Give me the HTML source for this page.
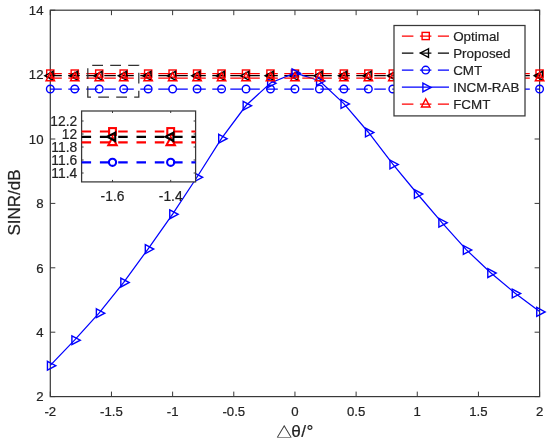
<!DOCTYPE html><html><head><meta charset="utf-8"><title>SINR plot</title>
<style>html,body{margin:0;padding:0;background:#fff}svg{display:block}text{font-family:"Liberation Sans","DejaVu Sans",sans-serif;fill:#222;stroke:#222;stroke-width:0.2}</style></head><body>
<svg width="550" height="444" viewBox="0 0 550 444">
<defs><filter id="soft" x="0" y="0" width="550" height="444" filterUnits="userSpaceOnUse"><feGaussianBlur stdDeviation="0.45"/></filter></defs>
<rect width="550" height="444" fill="#fff"/>
<g filter="url(#soft)">
<rect x="50.3" y="10.2" width="489.3" height="386.40000000000003" fill="none" stroke="#383838" stroke-width="1.2"/>
<path d="M50.30 396.6v-5M50.30 10.2v5M111.46 396.6v-5M111.46 10.2v5M172.62 396.6v-5M172.62 10.2v5M233.79 396.6v-5M233.79 10.2v5M294.95 396.6v-5M294.95 10.2v5M356.11 396.6v-5M356.11 10.2v5M417.28 396.6v-5M417.28 10.2v5M478.44 396.6v-5M478.44 10.2v5M539.60 396.6v-5M539.60 10.2v5M50.3 396.60h5M539.6 396.60h-5M50.3 332.20h5M539.6 332.20h-5M50.3 267.80h5M539.6 267.80h-5M50.3 203.40h5M539.6 203.40h-5M50.3 139.00h5M539.6 139.00h-5M50.3 74.60h5M539.6 74.60h-5M50.3 10.20h5M539.6 10.20h-5" stroke="#383838" stroke-width="1" fill="none"/>
<text x="50.30" y="416.3" font-size="13.2" text-anchor="middle">-2</text>
<text x="111.46" y="416.3" font-size="13.2" text-anchor="middle">-1.5</text>
<text x="172.62" y="416.3" font-size="13.2" text-anchor="middle">-1</text>
<text x="233.79" y="416.3" font-size="13.2" text-anchor="middle">-0.5</text>
<text x="294.95" y="416.3" font-size="13.2" text-anchor="middle">0</text>
<text x="356.11" y="416.3" font-size="13.2" text-anchor="middle">0.5</text>
<text x="417.28" y="416.3" font-size="13.2" text-anchor="middle">1</text>
<text x="478.44" y="416.3" font-size="13.2" text-anchor="middle">1.5</text>
<text x="539.60" y="416.3" font-size="13.2" text-anchor="middle">2</text>
<text x="43.5" y="401.30" font-size="13.2" text-anchor="end">2</text>
<text x="43.5" y="336.90" font-size="13.2" text-anchor="end">4</text>
<text x="43.5" y="272.50" font-size="13.2" text-anchor="end">6</text>
<text x="43.5" y="208.10" font-size="13.2" text-anchor="end">8</text>
<text x="43.5" y="143.70" font-size="13.2" text-anchor="end">10</text>
<text x="43.5" y="79.30" font-size="13.2" text-anchor="end">12</text>
<text x="43.5" y="14.90" font-size="13.2" text-anchor="end">14</text>
<text transform="translate(276.6 437.2) scale(1.0 0.86)" font-size="15.5" stroke-width="0.6" style="font-family:'Noto Sans CJK SC','DejaVu Sans',sans-serif">△</text>
<text x="291.2" y="437.3" font-size="17.2" letter-spacing="0.5">θ/°</text>
<text transform="translate(20.3 202.5) rotate(-90)" font-size="17" text-anchor="middle">SINR/dB</text>
<g>
<line x1="50.3" y1="73.6" x2="539.6" y2="73.6" stroke="#ff0000" stroke-width="1.25" stroke-dasharray="11.5 6.5"/>
<rect x="46.70" y="70.00" width="7.2" height="7.2" fill="none" stroke="#ff0000" stroke-width="1.4"/>
<rect x="71.16" y="70.00" width="7.2" height="7.2" fill="none" stroke="#ff0000" stroke-width="1.4"/>
<rect x="95.63" y="70.00" width="7.2" height="7.2" fill="none" stroke="#ff0000" stroke-width="1.4"/>
<rect x="120.10" y="70.00" width="7.2" height="7.2" fill="none" stroke="#ff0000" stroke-width="1.4"/>
<rect x="144.56" y="70.00" width="7.2" height="7.2" fill="none" stroke="#ff0000" stroke-width="1.4"/>
<rect x="169.03" y="70.00" width="7.2" height="7.2" fill="none" stroke="#ff0000" stroke-width="1.4"/>
<rect x="193.49" y="70.00" width="7.2" height="7.2" fill="none" stroke="#ff0000" stroke-width="1.4"/>
<rect x="217.96" y="70.00" width="7.2" height="7.2" fill="none" stroke="#ff0000" stroke-width="1.4"/>
<rect x="242.42" y="70.00" width="7.2" height="7.2" fill="none" stroke="#ff0000" stroke-width="1.4"/>
<rect x="266.88" y="70.00" width="7.2" height="7.2" fill="none" stroke="#ff0000" stroke-width="1.4"/>
<rect x="291.35" y="70.00" width="7.2" height="7.2" fill="none" stroke="#ff0000" stroke-width="1.4"/>
<rect x="315.81" y="70.00" width="7.2" height="7.2" fill="none" stroke="#ff0000" stroke-width="1.4"/>
<rect x="340.28" y="70.00" width="7.2" height="7.2" fill="none" stroke="#ff0000" stroke-width="1.4"/>
<rect x="364.75" y="70.00" width="7.2" height="7.2" fill="none" stroke="#ff0000" stroke-width="1.4"/>
<rect x="389.21" y="70.00" width="7.2" height="7.2" fill="none" stroke="#ff0000" stroke-width="1.4"/>
<rect x="413.68" y="70.00" width="7.2" height="7.2" fill="none" stroke="#ff0000" stroke-width="1.4"/>
<rect x="438.14" y="70.00" width="7.2" height="7.2" fill="none" stroke="#ff0000" stroke-width="1.4"/>
<rect x="462.61" y="70.00" width="7.2" height="7.2" fill="none" stroke="#ff0000" stroke-width="1.4"/>
<rect x="487.07" y="70.00" width="7.2" height="7.2" fill="none" stroke="#ff0000" stroke-width="1.4"/>
<rect x="511.53" y="70.00" width="7.2" height="7.2" fill="none" stroke="#ff0000" stroke-width="1.4"/>
<rect x="536.00" y="70.00" width="7.2" height="7.2" fill="none" stroke="#ff0000" stroke-width="1.4"/>
<line x1="50.3" y1="75.7" x2="539.6" y2="75.7" stroke="#000" stroke-width="1.25" stroke-dasharray="11.5 6.5"/>
<polygon points="53.09,71.40 44.92,75.70 53.09,80.00" fill="none" stroke="#000" stroke-width="1.4" stroke-linejoin="miter"/>
<polygon points="77.56,71.40 69.39,75.70 77.56,80.00" fill="none" stroke="#000" stroke-width="1.4" stroke-linejoin="miter"/>
<polygon points="102.02,71.40 93.85,75.70 102.02,80.00" fill="none" stroke="#000" stroke-width="1.4" stroke-linejoin="miter"/>
<polygon points="126.49,71.40 118.32,75.70 126.49,80.00" fill="none" stroke="#000" stroke-width="1.4" stroke-linejoin="miter"/>
<polygon points="150.96,71.40 142.79,75.70 150.96,80.00" fill="none" stroke="#000" stroke-width="1.4" stroke-linejoin="miter"/>
<polygon points="175.42,71.40 167.25,75.70 175.42,80.00" fill="none" stroke="#000" stroke-width="1.4" stroke-linejoin="miter"/>
<polygon points="199.89,71.40 191.72,75.70 199.89,80.00" fill="none" stroke="#000" stroke-width="1.4" stroke-linejoin="miter"/>
<polygon points="224.35,71.40 216.18,75.70 224.35,80.00" fill="none" stroke="#000" stroke-width="1.4" stroke-linejoin="miter"/>
<polygon points="248.82,71.40 240.65,75.70 248.82,80.00" fill="none" stroke="#000" stroke-width="1.4" stroke-linejoin="miter"/>
<polygon points="273.28,71.40 265.11,75.70 273.28,80.00" fill="none" stroke="#000" stroke-width="1.4" stroke-linejoin="miter"/>
<polygon points="297.75,71.40 289.57,75.70 297.75,80.00" fill="none" stroke="#000" stroke-width="1.4" stroke-linejoin="miter"/>
<polygon points="322.21,71.40 314.04,75.70 322.21,80.00" fill="none" stroke="#000" stroke-width="1.4" stroke-linejoin="miter"/>
<polygon points="346.68,71.40 338.51,75.70 346.68,80.00" fill="none" stroke="#000" stroke-width="1.4" stroke-linejoin="miter"/>
<polygon points="371.14,71.40 362.97,75.70 371.14,80.00" fill="none" stroke="#000" stroke-width="1.4" stroke-linejoin="miter"/>
<polygon points="395.61,71.40 387.44,75.70 395.61,80.00" fill="none" stroke="#000" stroke-width="1.4" stroke-linejoin="miter"/>
<polygon points="420.07,71.40 411.90,75.70 420.07,80.00" fill="none" stroke="#000" stroke-width="1.4" stroke-linejoin="miter"/>
<polygon points="444.54,71.40 436.37,75.70 444.54,80.00" fill="none" stroke="#000" stroke-width="1.4" stroke-linejoin="miter"/>
<polygon points="469.00,71.40 460.83,75.70 469.00,80.00" fill="none" stroke="#000" stroke-width="1.4" stroke-linejoin="miter"/>
<polygon points="493.47,71.40 485.30,75.70 493.47,80.00" fill="none" stroke="#000" stroke-width="1.4" stroke-linejoin="miter"/>
<polygon points="517.93,71.40 509.76,75.70 517.93,80.00" fill="none" stroke="#000" stroke-width="1.4" stroke-linejoin="miter"/>
<polygon points="542.39,71.40 534.23,75.70 542.39,80.00" fill="none" stroke="#000" stroke-width="1.4" stroke-linejoin="miter"/>
<line x1="50.3" y1="89.0" x2="539.6" y2="89.0" stroke="#0000ff" stroke-width="1.25" stroke-dasharray="11.5 6.5"/>
<circle cx="50.30" cy="89.00" r="3.8" fill="none" stroke="#0000ff" stroke-width="1.4"/>
<circle cx="74.76" cy="89.00" r="3.8" fill="none" stroke="#0000ff" stroke-width="1.4"/>
<circle cx="99.23" cy="89.00" r="3.8" fill="none" stroke="#0000ff" stroke-width="1.4"/>
<circle cx="123.70" cy="89.00" r="3.8" fill="none" stroke="#0000ff" stroke-width="1.4"/>
<circle cx="148.16" cy="89.00" r="3.8" fill="none" stroke="#0000ff" stroke-width="1.4"/>
<circle cx="172.62" cy="89.00" r="3.8" fill="none" stroke="#0000ff" stroke-width="1.4"/>
<circle cx="197.09" cy="89.00" r="3.8" fill="none" stroke="#0000ff" stroke-width="1.4"/>
<circle cx="221.56" cy="89.00" r="3.8" fill="none" stroke="#0000ff" stroke-width="1.4"/>
<circle cx="246.02" cy="89.00" r="3.8" fill="none" stroke="#0000ff" stroke-width="1.4"/>
<circle cx="270.49" cy="89.00" r="3.8" fill="none" stroke="#0000ff" stroke-width="1.4"/>
<circle cx="294.95" cy="89.00" r="3.8" fill="none" stroke="#0000ff" stroke-width="1.4"/>
<circle cx="319.42" cy="89.00" r="3.8" fill="none" stroke="#0000ff" stroke-width="1.4"/>
<circle cx="343.88" cy="89.00" r="3.8" fill="none" stroke="#0000ff" stroke-width="1.4"/>
<circle cx="368.35" cy="89.00" r="3.8" fill="none" stroke="#0000ff" stroke-width="1.4"/>
<circle cx="392.81" cy="89.00" r="3.8" fill="none" stroke="#0000ff" stroke-width="1.4"/>
<circle cx="417.28" cy="89.00" r="3.8" fill="none" stroke="#0000ff" stroke-width="1.4"/>
<circle cx="441.74" cy="89.00" r="3.8" fill="none" stroke="#0000ff" stroke-width="1.4"/>
<circle cx="466.21" cy="89.00" r="3.8" fill="none" stroke="#0000ff" stroke-width="1.4"/>
<circle cx="490.67" cy="89.00" r="3.8" fill="none" stroke="#0000ff" stroke-width="1.4"/>
<circle cx="515.13" cy="89.00" r="3.8" fill="none" stroke="#0000ff" stroke-width="1.4"/>
<circle cx="539.60" cy="89.00" r="3.8" fill="none" stroke="#0000ff" stroke-width="1.4"/>
<polyline points="50.30,365.37 74.76,339.93 99.23,312.88 123.70,282.29 148.16,248.80 172.62,214.03 197.09,177.00 221.56,138.36 246.02,105.51 270.49,82.97 294.95,72.99 319.42,80.72 343.88,103.58 368.35,132.24 392.81,164.12 417.28,193.74 441.74,222.40 466.21,249.61 490.67,272.79 515.13,293.24 539.60,311.59" fill="none" stroke="#0000ff" stroke-width="1.25"/>
<polygon points="47.44,361.27 55.80,365.67 47.44,370.07" fill="none" stroke="#0000ff" stroke-width="1.4" stroke-linejoin="miter"/>
<polygon points="71.90,335.83 80.26,340.23 71.90,344.63" fill="none" stroke="#0000ff" stroke-width="1.4" stroke-linejoin="miter"/>
<polygon points="96.37,308.78 104.73,313.18 96.37,317.58" fill="none" stroke="#0000ff" stroke-width="1.4" stroke-linejoin="miter"/>
<polygon points="120.84,278.19 129.19,282.59 120.84,286.99" fill="none" stroke="#0000ff" stroke-width="1.4" stroke-linejoin="miter"/>
<polygon points="145.30,244.70 153.66,249.10 145.30,253.50" fill="none" stroke="#0000ff" stroke-width="1.4" stroke-linejoin="miter"/>
<polygon points="169.76,209.93 178.12,214.33 169.76,218.73" fill="none" stroke="#0000ff" stroke-width="1.4" stroke-linejoin="miter"/>
<polygon points="194.23,172.90 202.59,177.30 194.23,181.70" fill="none" stroke="#0000ff" stroke-width="1.4" stroke-linejoin="miter"/>
<polygon points="218.69,134.26 227.06,138.66 218.69,143.06" fill="none" stroke="#0000ff" stroke-width="1.4" stroke-linejoin="miter"/>
<polygon points="243.16,101.41 251.52,105.81 243.16,110.21" fill="none" stroke="#0000ff" stroke-width="1.4" stroke-linejoin="miter"/>
<polygon points="267.62,78.87 275.99,83.27 267.62,87.67" fill="none" stroke="#0000ff" stroke-width="1.4" stroke-linejoin="miter"/>
<polygon points="292.09,68.89 300.45,73.29 292.09,77.69" fill="none" stroke="#0000ff" stroke-width="1.4" stroke-linejoin="miter"/>
<polygon points="316.56,76.62 324.92,81.02 316.56,85.42" fill="none" stroke="#0000ff" stroke-width="1.4" stroke-linejoin="miter"/>
<polygon points="341.02,99.48 349.38,103.88 341.02,108.28" fill="none" stroke="#0000ff" stroke-width="1.4" stroke-linejoin="miter"/>
<polygon points="365.49,128.14 373.85,132.54 365.49,136.94" fill="none" stroke="#0000ff" stroke-width="1.4" stroke-linejoin="miter"/>
<polygon points="389.95,160.02 398.31,164.42 389.95,168.82" fill="none" stroke="#0000ff" stroke-width="1.4" stroke-linejoin="miter"/>
<polygon points="414.42,189.64 422.78,194.04 414.42,198.44" fill="none" stroke="#0000ff" stroke-width="1.4" stroke-linejoin="miter"/>
<polygon points="438.88,218.30 447.24,222.70 438.88,227.10" fill="none" stroke="#0000ff" stroke-width="1.4" stroke-linejoin="miter"/>
<polygon points="463.35,245.51 471.71,249.91 463.35,254.31" fill="none" stroke="#0000ff" stroke-width="1.4" stroke-linejoin="miter"/>
<polygon points="487.81,268.69 496.17,273.09 487.81,277.49" fill="none" stroke="#0000ff" stroke-width="1.4" stroke-linejoin="miter"/>
<polygon points="512.27,289.14 520.63,293.54 512.27,297.94" fill="none" stroke="#0000ff" stroke-width="1.4" stroke-linejoin="miter"/>
<polygon points="536.74,307.49 545.10,311.89 536.74,316.29" fill="none" stroke="#0000ff" stroke-width="1.4" stroke-linejoin="miter"/>
<line x1="50.3" y1="78.0" x2="539.6" y2="78.0" stroke="#ff0000" stroke-width="1.25" stroke-dasharray="11.5 6.5"/>
<polygon points="46.00,80.80 50.30,72.62 54.60,80.80" fill="none" stroke="#ff0000" stroke-width="1.4" stroke-linejoin="miter"/>
<polygon points="70.46,80.80 74.76,72.62 79.06,80.80" fill="none" stroke="#ff0000" stroke-width="1.4" stroke-linejoin="miter"/>
<polygon points="94.93,80.80 99.23,72.62 103.53,80.80" fill="none" stroke="#ff0000" stroke-width="1.4" stroke-linejoin="miter"/>
<polygon points="119.40,80.80 123.70,72.62 128.00,80.80" fill="none" stroke="#ff0000" stroke-width="1.4" stroke-linejoin="miter"/>
<polygon points="143.86,80.80 148.16,72.62 152.46,80.80" fill="none" stroke="#ff0000" stroke-width="1.4" stroke-linejoin="miter"/>
<polygon points="168.32,80.80 172.62,72.62 176.93,80.80" fill="none" stroke="#ff0000" stroke-width="1.4" stroke-linejoin="miter"/>
<polygon points="192.79,80.80 197.09,72.62 201.39,80.80" fill="none" stroke="#ff0000" stroke-width="1.4" stroke-linejoin="miter"/>
<polygon points="217.25,80.80 221.56,72.62 225.86,80.80" fill="none" stroke="#ff0000" stroke-width="1.4" stroke-linejoin="miter"/>
<polygon points="241.72,80.80 246.02,72.62 250.32,80.80" fill="none" stroke="#ff0000" stroke-width="1.4" stroke-linejoin="miter"/>
<polygon points="266.19,80.80 270.49,72.62 274.79,80.80" fill="none" stroke="#ff0000" stroke-width="1.4" stroke-linejoin="miter"/>
<polygon points="290.65,80.80 294.95,72.62 299.25,80.80" fill="none" stroke="#ff0000" stroke-width="1.4" stroke-linejoin="miter"/>
<polygon points="315.12,80.80 319.42,72.62 323.72,80.80" fill="none" stroke="#ff0000" stroke-width="1.4" stroke-linejoin="miter"/>
<polygon points="339.58,80.80 343.88,72.62 348.18,80.80" fill="none" stroke="#ff0000" stroke-width="1.4" stroke-linejoin="miter"/>
<polygon points="364.05,80.80 368.35,72.62 372.65,80.80" fill="none" stroke="#ff0000" stroke-width="1.4" stroke-linejoin="miter"/>
<polygon points="388.51,80.80 392.81,72.62 397.11,80.80" fill="none" stroke="#ff0000" stroke-width="1.4" stroke-linejoin="miter"/>
<polygon points="412.98,80.80 417.28,72.62 421.58,80.80" fill="none" stroke="#ff0000" stroke-width="1.4" stroke-linejoin="miter"/>
<polygon points="437.44,80.80 441.74,72.62 446.04,80.80" fill="none" stroke="#ff0000" stroke-width="1.4" stroke-linejoin="miter"/>
<polygon points="461.91,80.80 466.21,72.62 470.51,80.80" fill="none" stroke="#ff0000" stroke-width="1.4" stroke-linejoin="miter"/>
<polygon points="486.37,80.80 490.67,72.62 494.97,80.80" fill="none" stroke="#ff0000" stroke-width="1.4" stroke-linejoin="miter"/>
<polygon points="510.83,80.80 515.13,72.62 519.43,80.80" fill="none" stroke="#ff0000" stroke-width="1.4" stroke-linejoin="miter"/>
<polygon points="535.30,80.80 539.60,72.62 543.90,80.80" fill="none" stroke="#ff0000" stroke-width="1.4" stroke-linejoin="miter"/>
</g>
<path d="M87.8 97V65.4H138.8V97Z" fill="none" stroke="#333" stroke-width="1.25" stroke-dasharray="10.8 7.2"/>
<rect x="81.6" y="111.0" width="114.00" height="70.90" fill="#fff" stroke="#383838" stroke-width="1.25"/>
<text x="77.2" y="125.9" font-size="13.8" text-anchor="end">12.2</text>
<text x="77.2" y="138.9" font-size="13.8" text-anchor="end">12</text>
<text x="77.2" y="151.9" font-size="13.8" text-anchor="end">11.8</text>
<text x="77.2" y="164.9" font-size="13.8" text-anchor="end">11.6</text>
<text x="77.2" y="177.9" font-size="13.8" text-anchor="end">11.4</text>
<path d="M81.6 121h2M195.6 121h-2M81.6 134.0h2M195.6 134.0h-2M81.6 147h2M195.6 147h-2M81.6 160h2M195.6 160h-2M81.6 173h2M195.6 173h-2M112.5 181.9v-2M112.5 111.0v2M170.7 181.9v-2M170.7 111.0v2" stroke="#383838" stroke-width="1" fill="none"/>
<text x="112.5" y="200.5" font-size="13.8" text-anchor="middle">-1.6</text>
<text x="170.7" y="200.5" font-size="13.8" text-anchor="middle">-1.4</text>
<line x1="81.6" y1="131.5" x2="195.6" y2="131.5" stroke="#ff0000" stroke-width="2.2" stroke-dasharray="9.5 8.8"/>
<line x1="81.6" y1="142.4" x2="195.6" y2="142.4" stroke="#ff0000" stroke-width="2.2" stroke-dasharray="9.5 8.8"/>
<line x1="81.6" y1="136.8" x2="195.6" y2="136.8" stroke="#000" stroke-width="2.2" stroke-dasharray="9.5 8.8"/>
<line x1="81.6" y1="162.3" x2="195.6" y2="162.3" stroke="#0000ff" stroke-width="2.2" stroke-dasharray="9.5 8.8"/>
<rect x="109.10" y="128.10" width="6.8" height="6.8" fill="none" stroke="#ff0000" stroke-width="2.1"/>
<polygon points="108.30,145.13 112.50,137.15 116.70,145.13" fill="none" stroke="#ff0000" stroke-width="2.1" stroke-linejoin="miter"/>
<polygon points="115.23,132.60 107.25,136.80 115.23,141.00" fill="none" stroke="#000" stroke-width="2.1" stroke-linejoin="miter"/>
<circle cx="112.50" cy="162.30" r="3.6" fill="none" stroke="#0000ff" stroke-width="2.1"/>
<rect x="167.30" y="128.10" width="6.8" height="6.8" fill="none" stroke="#ff0000" stroke-width="2.1"/>
<polygon points="166.50,145.13 170.70,137.15 174.90,145.13" fill="none" stroke="#ff0000" stroke-width="2.1" stroke-linejoin="miter"/>
<polygon points="173.43,132.60 165.45,136.80 173.43,141.00" fill="none" stroke="#000" stroke-width="2.1" stroke-linejoin="miter"/>
<circle cx="170.70" cy="162.30" r="3.6" fill="none" stroke="#0000ff" stroke-width="2.1"/>
<rect x="394.0" y="25.5" width="131.00" height="90.40" fill="#fff" stroke="#383838" stroke-width="1.25"/>
<line x1="401.9" y1="36.00" x2="449" y2="36.00" stroke="#ff0000" stroke-width="1.25" stroke-dasharray="11.5 6.5"/>
<rect x="422.10" y="32.40" width="7.2" height="7.2" fill="none" stroke="#ff0000" stroke-width="1.4"/>
<text x="453.2" y="40.75" font-size="13.4" fill="#111">Optimal</text>
<line x1="401.9" y1="53.05" x2="449" y2="53.05" stroke="#000" stroke-width="1.25" stroke-dasharray="11.5 6.5"/>
<polygon points="428.50,48.75 420.32,53.05 428.50,57.35" fill="none" stroke="#000" stroke-width="1.4" stroke-linejoin="miter"/>
<text x="453.2" y="57.80" font-size="13.4" fill="#111">Proposed</text>
<line x1="401.9" y1="70.10" x2="449" y2="70.10" stroke="#0000ff" stroke-width="1.25" stroke-dasharray="11.5 6.5"/>
<circle cx="425.70" cy="70.10" r="3.8" fill="none" stroke="#0000ff" stroke-width="1.4"/>
<text x="453.2" y="74.85" font-size="13.4" fill="#111">CMT</text>
<line x1="401.9" y1="87.15" x2="449" y2="87.15" stroke="#0000ff" stroke-width="1.25"/>
<polygon points="422.90,83.15 431.07,87.45 422.90,91.75" fill="none" stroke="#0000ff" stroke-width="1.4" stroke-linejoin="miter"/>
<text x="453.2" y="91.90" font-size="13.4" fill="#111">INCM-RAB</text>
<line x1="401.9" y1="104.20" x2="449" y2="104.20" stroke="#ff0000" stroke-width="1.25" stroke-dasharray="11.5 6.5"/>
<polygon points="421.40,107.00 425.70,98.83 430.00,107.00" fill="none" stroke="#ff0000" stroke-width="1.4" stroke-linejoin="miter"/>
<text x="453.2" y="108.95" font-size="13.4" fill="#111">FCMT</text>
</g>
</svg></body></html>
